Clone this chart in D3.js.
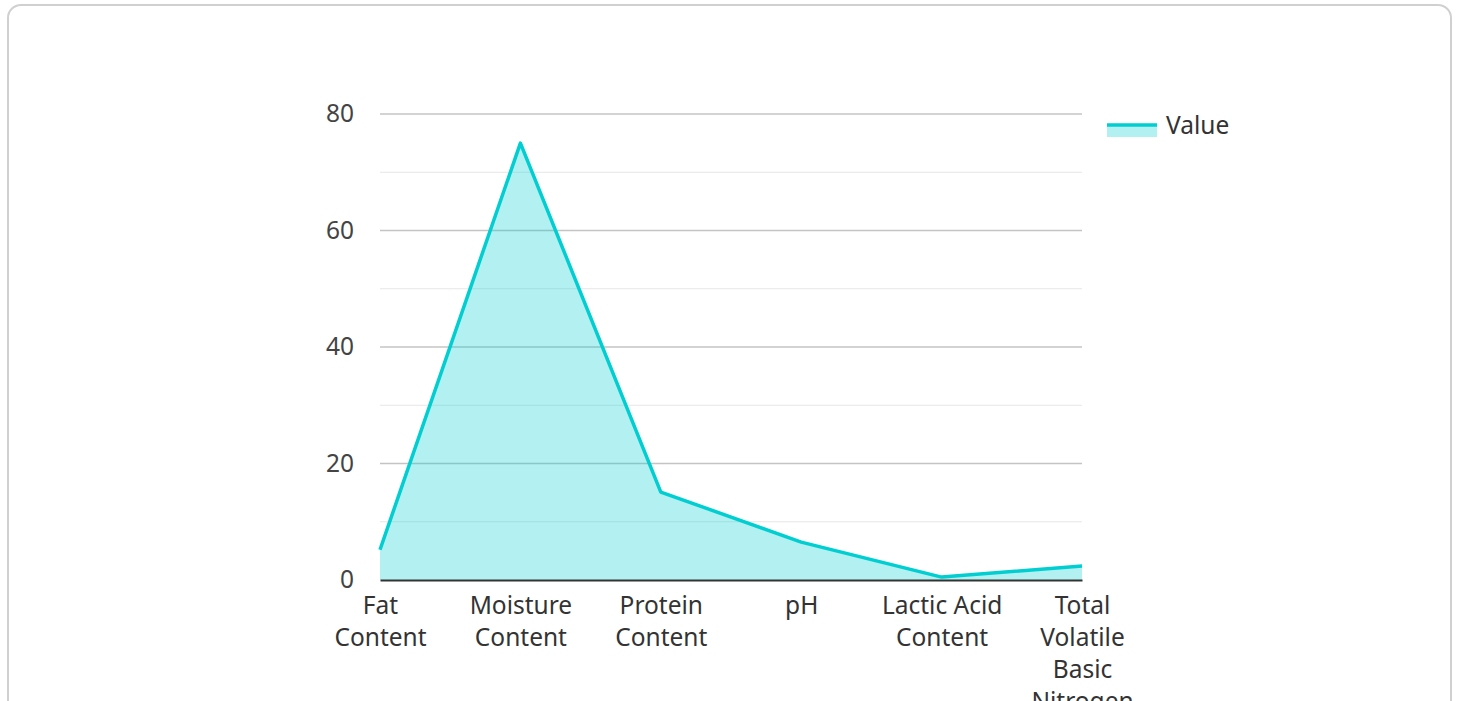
<!DOCTYPE html>
<html>
<head>
<meta charset="utf-8">
<script src="https://cdn.jsdelivr.net/npm/d3@7"></script>
<style>
  html, body { margin: 0; padding: 0; background: #fff; overflow: hidden; }
  #card {
    position: absolute; left: 7px; top: 4px; width: 1445px; height: 720px;
    border: 2px solid #d0d0d0; border-radius: 14px; box-sizing: border-box;
  }
  svg { position: absolute; left: 0; top: 0; font-family: "Noto Sans", "Open Sans", sans-serif; }
</style>
</head>
<body>
<div id="card"></div>
<div id="chart"></div>
<script>
// Data
const categories = ["Fat\nContent", "Moisture\nContent", "Protein\nContent", "pH", "Lactic Acid\nContent", "Total\nVolatile\nBasic\nNitrogen"];
const values = [5.2, 75.0, 15.1, 6.5, 0.5, 2.4];
const yTicks = [0, 20, 40, 60, 80];
const minorTicks = [10, 30, 50, 70];
const seriesName = "Value";

const width = 1458, height = 701;
const plot = { left: 380, right: 1082, top: 114, bottom: 580 };
const fontSize = 24.5;

const svg = d3.select("#chart")
    .append("svg")
    .attr("width", width)
    .attr("height", height);

const xScale = d3.scalePoint()
    .domain(categories)
    .range([plot.left, plot.right]);

const yScale = d3.scaleLinear()
    .domain([0, 80])
    .range([plot.bottom, plot.top]);

// grid lines
svg.append("g")
    .selectAll("line")
    .data(minorTicks)
    .enter()
    .append("line")
    .attr("x1", plot.left).attr("x2", plot.right)
    .attr("y1", d => yScale(d)).attr("y2", d => yScale(d))
    .attr("stroke", "#e6e6e6").attr("stroke-width", 1.2);

svg.append("g")
    .selectAll("line")
    .data(yTicks.filter(d => d > 0))
    .enter()
    .append("line")
    .attr("x1", plot.left).attr("x2", plot.right)
    .attr("y1", d => yScale(d)).attr("y2", d => yScale(d))
    .attr("stroke", "#c4c4c4").attr("stroke-width", 1.5);

// y axis labels
const yAxis = svg.append("g")
    .attr("transform", `translate(${plot.left},0)`)
    .call(d3.axisLeft(yScale).tickValues(yTicks).tickSize(0).tickPadding(26));
yAxis.select(".domain").remove();
yAxis.selectAll("text")
    .attr("font-size", fontSize)
    .attr("font-family", "Noto Sans, Open Sans, sans-serif")
    .attr("fill", "#444");

// area and line
const area = d3.area()
    .x((d, i) => xScale(categories[i]))
    .y0(yScale(0))
    .y1(d => yScale(d));

const line = d3.line()
    .x((d, i) => xScale(categories[i]))
    .y(d => yScale(d));

svg.append("path")
    .datum(values)
    .attr("d", area)
    .attr("fill", "rgba(0, 206, 209, 0.3)");

svg.append("path")
    .datum(values)
    .attr("d", line)
    .attr("fill", "none")
    .attr("stroke", "#00CED1")
    .attr("stroke-width", 3.5)
    .attr("stroke-linejoin", "round");

// x axis
const xAxis = svg.append("g")
    .attr("transform", `translate(0,${plot.bottom})`)
    .call(d3.axisBottom(xScale).tickSize(0).tickSizeOuter(0).tickFormat(""));
xAxis.select(".domain")
    .attr("stroke", "#333")
    .attr("stroke-width", 2);

xAxis.selectAll(".tick").each(function(d) {
    const t = d3.select(this).append("text")
        .attr("text-anchor", "middle")
        .attr("font-size", fontSize)
        .attr("font-family", "Noto Sans, Open Sans, sans-serif")
        .attr("fill", "#333");
    d.split("\n").forEach((s, i) => {
        t.append("tspan")
            .attr("x", 0)
            .attr("y", 25 + i * 32)
            .attr("dy", "0.35em")
            .text(s);
    });
});

// legend
const legend = svg.append("g").attr("transform", "translate(1107,125)");
legend.append("rect")
    .attr("x", 0).attr("y", 0)
    .attr("width", 50).attr("height", 12)
    .attr("fill", "rgba(0, 206, 209, 0.3)");
legend.append("line")
    .attr("x1", 0).attr("x2", 50)
    .attr("y1", 0).attr("y2", 0)
    .attr("stroke", "#00CED1")
    .attr("stroke-width", 3.5);
legend.append("text")
    .attr("x", 59).attr("y", 0)
    .attr("dy", "0.35em")
    .attr("font-size", fontSize)
    .attr("fill", "#333")
    .text(seriesName);
</script>
</body>
</html>
